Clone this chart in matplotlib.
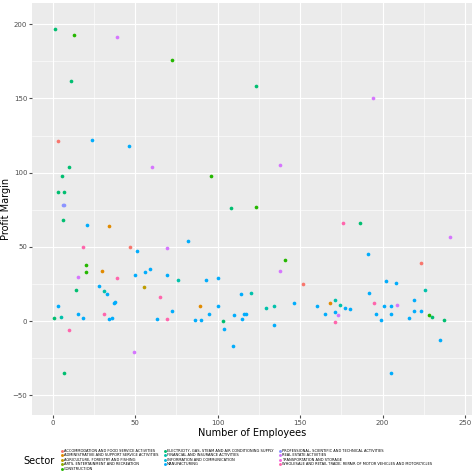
import matplotlib
matplotlib.use("Agg")
import matplotlib.pyplot as plt

sectors = [
    "ACCOMMODATION AND FOOD SERVICE ACTIVITIES",
    "ADMINISTRATIVE AND SUPPORT SERVICE ACTIVITIES",
    "AGRICULTURE, FORESTRY AND FISHING",
    "ARTS, ENTERTAINMENT AND RECREATION",
    "CONSTRUCTION",
    "ELECTRICITY, GAS, STEAM AND AIR CONDITIONING SUPPLY",
    "FINANCIAL AND INSURANCE ACTIVITIES",
    "INFORMATION AND COMMUNICATION",
    "MANUFACTURING",
    "PROFESSIONAL, SCIENTIFIC AND TECHNICAL ACTIVITIES",
    "REAL ESTATE ACTIVITIES",
    "TRANSPORTATION AND STORAGE",
    "WHOLESALE AND RETAIL TRADE; REPAIR OF MOTOR VEHICLES AND MOTORCYCLES",
]

# (employees, profit margin, sector index)
employees = [1.2, 13, 39, 72, 11, 123, 194, 3, 24, 46, 60, 10, 5.3, 96, 138, 3, 7, 6, 7, 6,
             21, 34, 18, 47, 51, 69, 82, 20, 20, 15, 30, 39, 50, 56, 59, 69, 76, 93, 100, 28,
             14, 55, 31, 33, 37, 38, 65, 114, 120, 3, 89, 100, 72, 5, 1, 15, 18, 31, 34, 36,
             63, 69, 86, 90, 95, 103, 110, 116, 115, 104, 9.5, 109, 49, 6.5, 108, 123,
             176, 186, 241, 191, 141, 138, 223, 152, 202, 208, 226, 192, 129, 134, 146, 160,
             168, 171, 174, 177, 180, 165, 171, 173, 171, 134, 195, 196, 199, 201, 205, 209,
             205, 216, 219, 219, 223, 228, 230, 237, 235, 205, 117]
margin = [197, 193, 191, 176, 162, 158, 150, 121, 122, 118, 104, 104, 98, 98, 105, 87, 87, 78, 78, 68,
          65, 64, 50, 50, 47, 49, 54, 38, 33, 30, 34, 29, 31, 33, 35, 31, 28, 28, 29, 24,
          21, 23, 20, 18, 12, 13, 16, 18, 19, 10, 10, 10, 7, 3, 2, 4.5, 2, 5, 1.5, 2,
          1.5, 1.5, 1, 1, 5, 0, 4, 4.5, 1.5, -5, -6, -17, -21, -35, 76, 77,
          66, 66, 57, 45, 41, 34, 39, 25, 27, 26, 21, 19, 9, 10, 12, 10,
          12, 14, 11, 9, 8, 5, 6, 4, -0.5, -2.5, 12, 5, 0.5, 10, 10, 11,
          4.5, 2, 14, 7, 7, 4, 3, 0.5, -13, -35, 4.5]
sector_idx = [5, 4, 10, 4, 5, 5, 10, 0, 8, 8, 10, 5, 5, 4, 10, 5, 5, 9, 9, 5,
              8, 1, 12, 0, 8, 10, 8, 4, 4, 10, 1, 12, 8, 8, 8, 8, 6, 8, 8, 8,
              5, 2, 6, 8, 8, 8, 12, 8, 6, 8, 1, 8, 8, 6, 5, 8, 8, 12, 8, 8,
              8, 12, 8, 8, 8, 5, 8, 8, 8, 8, 12, 8, 10, 5, 5, 4,
              12, 5, 10, 8, 4, 10, 0, 0, 8, 8, 6, 8, 6, 6, 8, 8,
              1, 6, 6, 8, 8, 8, 8, 10, 12, 8, 12, 8, 8, 8, 8, 10,
              8, 8, 8, 8, 8, 4, 5, 5, 8, 8, 8]

# ggplot2 default hue palette for 13 levels
palette = ["#F8766D", "#E18A00", "#BE9C00", "#8CAB00", "#24B700", "#00BE70", "#00C1AB",
           "#00BBDA", "#00ACFC", "#8B93FF", "#D575FE", "#F962DD", "#FF65AC"]

fig = plt.figure(figsize=(4.74, 4.74), dpi=100)
ax = fig.add_axes([0.068, 0.125, 0.927, 0.868])
ax.set_facecolor("#EBEBEB")
for s in ax.spines.values():
    s.set_visible(False)

for k, name in enumerate(sectors):
    xs = [e for e, i in zip(employees, sector_idx) if i == k]
    ys = [m for m, i in zip(margin, sector_idx) if i == k]
    ax.scatter(xs, ys, s=7, color=palette[k], label=name, linewidths=0, zorder=3)

ax.set_xlim(-12.5, 254)
ax.set_ylim(-63, 214)
ax.set_xticks([0, 50, 100, 150, 200, 250])
ax.set_yticks([-50, 0, 50, 100, 150, 200])
ax.set_xticks([25, 75, 125, 175, 225], minor=True)
ax.set_yticks([-25, 25, 75, 125, 175], minor=True)
ax.grid(True, which="major", color="white", linewidth=0.8)
ax.grid(True, which="minor", color="white", linewidth=0.4)
ax.set_axisbelow(True)
ax.tick_params(which="major", labelsize=5, colors="#4D4D4D", length=2, pad=1.5)
ax.tick_params(which="minor", length=0)
ax.set_xlabel("Number of Employees", fontsize=7, labelpad=2)
ax.set_ylabel("Profit Margin", fontsize=7, labelpad=1)

leg = fig.legend(loc="lower center", bbox_to_anchor=(0.52, 0.0), ncol=3, fontsize=2.6,
                 frameon=False, markerscale=0.8, handletextpad=0.3,
                 columnspacing=1.5, labelspacing=0.15, handlelength=0.6)
fig.text(0.05, 0.027, "Sector", fontsize=7, va="center")

fig.savefig("out.png", dpi=100)
